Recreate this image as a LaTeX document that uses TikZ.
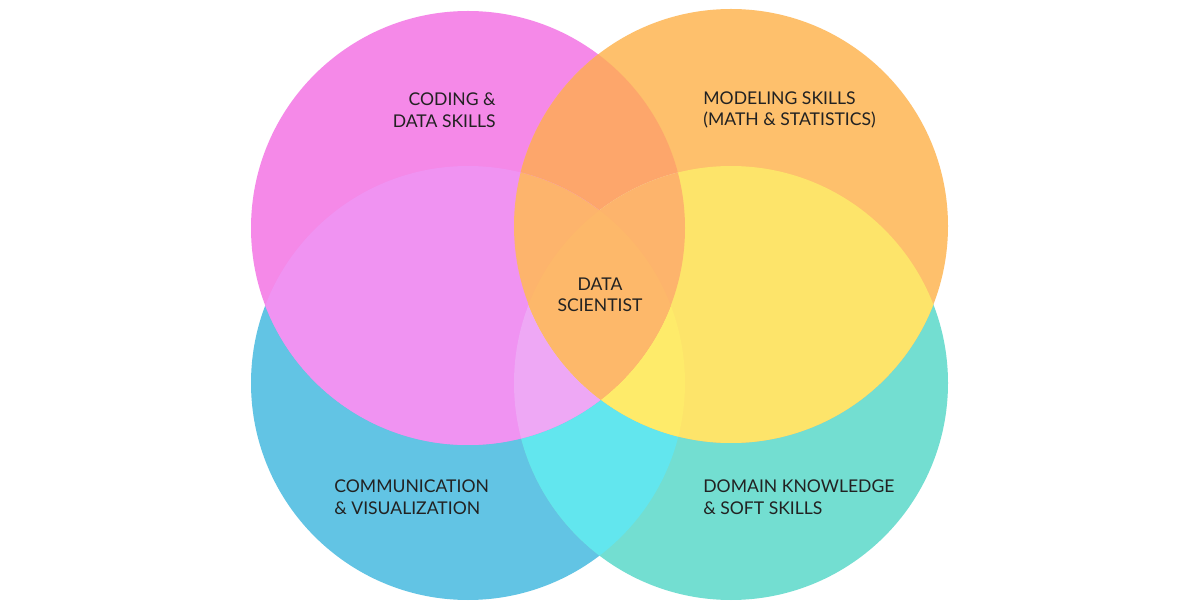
\documentclass[tikz,border=0pt]{standalone}
\usepackage{fontspec}
\setmainfont{Lato}
\definecolor{cP}{HTML}{F589E8}
\definecolor{cO}{HTML}{FEC06C}
\definecolor{cB}{HTML}{62C4E4}
\definecolor{cT}{HTML}{73DED1}
\definecolor{cBT}{HTML}{62E6EE}
\definecolor{cPO}{HTML}{FDA66B}
\definecolor{cPB}{HTML}{F093F2}
\definecolor{cPT}{HTML}{EEA8F5}
\definecolor{cOT}{HTML}{FDE46A}
\definecolor{cOB}{HTML}{FEEB6A}
\definecolor{cPOX}{HTML}{FDB46C}
\definecolor{cAll}{HTML}{FDB86A}
\definecolor{txt}{HTML}{222222}
\tikzset{lbl/.style={text=txt,font=\fontsize{10}{12.2}\selectfont,inner sep=0pt}}
\newcommand{\cP}{(468,228) circle (217)}
\newcommand{\cO}{(731,226) circle (217)}
\newcommand{\cB}{(468,383) circle (217)}
\newcommand{\cT}{(731,383) circle (217)}
\begin{document}
\begin{tikzpicture}[x=0.02cm,y=-0.02cm]
\useasboundingbox (0,0) rectangle (1200,607);
\fill[white] (0,0) rectangle (1200,607);
\fill[cB] \cB; \fill[cT] \cT;
\begin{scope}\clip \cB; \fill[cBT] \cT;\end{scope}
\fill[cP] \cP; \fill[cO] \cO;
\begin{scope}\clip \cP; \fill[cPO] \cO;\end{scope}
\begin{scope}\clip \cP; \fill[cPB] \cB;\end{scope}
\begin{scope}\clip \cP; \fill[cPT] \cT;\end{scope}
\begin{scope}\clip \cO; \fill[cOT] \cT;\end{scope}
\begin{scope}\clip \cO; \clip \cT; \fill[cOB] \cB;\end{scope}
\begin{scope}\clip \cP; \clip \cO; \fill[cPOX] \cB; \fill[cPOX] \cT;\end{scope}
\begin{scope}\clip \cP; \clip \cO; \clip \cB; \fill[cAll] \cT;\end{scope}
\node[lbl,anchor=east,align=right] (cod) at (496,110) {CODING \&\\DATA SKILLS};
\node[lbl,anchor=west,align=left] (mod) at (703,110) {MODELING SKILLS\\(MATH \& STATISTICS)};
\node[lbl,anchor=west,align=left] (com) at (334,497) {COMMUNICATION\\\& VISUALIZATION};
\node[lbl,anchor=west,align=left] (dom) at (703,497) {DOMAIN KNOWLEDGE\\\& SOFT SKILLS};
\node[lbl,align=center] (ds) at (600,295) {DATA\\SCIENTIST};
\end{tikzpicture}
\end{document}
